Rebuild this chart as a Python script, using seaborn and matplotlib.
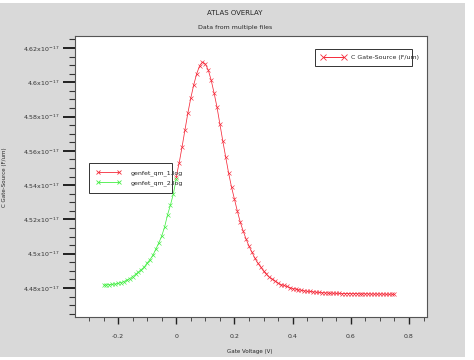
import matplotlib as mpl
import matplotlib.pyplot as plt
import seaborn as sns
from matplotlib.lines import Line2D
from matplotlib.patches import Rectangle
from matplotlib.ticker import MultipleLocator, FuncFormatter

# gate voltage (V) and C gate-source (units of 1e-17 F/um)
v_qm1 = [0.00, 0.01, 0.02, 0.03, 0.04, 0.05, 0.06, 0.07, 0.08, 0.09,
         0.10, 0.11, 0.12, 0.13, 0.14, 0.15, 0.16, 0.17, 0.18, 0.19,
         0.20, 0.21, 0.22, 0.23, 0.24, 0.25, 0.26, 0.27, 0.28, 0.29,
         0.30, 0.31, 0.32, 0.33, 0.34, 0.35, 0.36, 0.37, 0.38, 0.39,
         0.40, 0.41, 0.42, 0.43, 0.44, 0.45, 0.46, 0.47, 0.48, 0.49,
         0.50, 0.51, 0.52, 0.53, 0.54, 0.55, 0.56, 0.57, 0.58, 0.59,
         0.60, 0.61, 0.62, 0.63, 0.64, 0.65, 0.66, 0.67, 0.68, 0.69,
         0.70, 0.71, 0.72, 0.73, 0.74, 0.75]
c_qm1 = [4.5448, 4.5529, 4.5623, 4.5722, 4.5821, 4.5908, 4.5984, 4.6048, 4.6095, 4.6118,
         4.6107, 4.6072, 4.6013, 4.5938, 4.5856, 4.5757, 4.5658, 4.5564, 4.5471, 4.5389,
         4.5319, 4.5249, 4.5185, 4.5133, 4.5086, 4.5045, 4.5010, 4.4975, 4.4946, 4.4923,
         4.4899, 4.4882, 4.4864, 4.4853, 4.4841, 4.4829, 4.4820, 4.4815, 4.4809, 4.4803,
         4.4797, 4.4794, 4.4790, 4.4787, 4.4784, 4.4781, 4.4780, 4.4778, 4.4776, 4.4774,
         4.4773, 4.4772, 4.4771, 4.4770, 4.4770, 4.4769, 4.4769, 4.4768, 4.4768, 4.4768,
         4.4767, 4.4767, 4.4767, 4.4766, 4.4766, 4.4766, 4.4766, 4.4765, 4.4765, 4.4765,
         4.4765, 4.4765, 4.4764, 4.4764, 4.4764, 4.4764]

v_qm2 = [-0.25, -0.24, -0.23, -0.22, -0.21, -0.20, -0.19, -0.18, -0.17, -0.16,
         -0.15, -0.14, -0.13, -0.12, -0.11, -0.10, -0.09, -0.08, -0.07, -0.06,
         -0.05, -0.04, -0.03, -0.02, -0.01, 0.00]
c_qm2 = [4.4818, 4.4818, 4.4820, 4.4822, 4.4823, 4.4827, 4.4832, 4.4838, 4.4846, 4.4855,
         4.4867, 4.4879, 4.4893, 4.4908, 4.4922, 4.4946, 4.4966, 4.4992, 4.5027, 4.5063,
         4.5103, 4.5156, 4.5226, 4.5284, 4.5348, 4.5436]

RED = "#f52a3a"
GREEN = "#44ee44"

sns.set_style("white")
mpl.rcParams["font.family"] = ["Liberation Sans Narrow", "DejaVu Sans"]
mpl.rcParams["mathtext.fontset"] = "custom"
mpl.rcParams["mathtext.rm"] = "Liberation Sans Narrow"

fig = plt.figure(figsize=(4.74, 3.6), dpi=100, facecolor="white")
fig.patches.append(Rectangle((0, 3 / 360), 465 / 474, 354 / 360, transform=fig.transFigure,
                             facecolor="#d9d9d9", edgecolor="none", zorder=-10))
ax = fig.add_axes([75 / 474, 43 / 360, 352 / 474, 281 / 360])
ax.set_zorder(5)
ax.set_facecolor("white")

line_kw = dict(marker="x", markersize=3.2, markeredgewidth=0.45, linewidth=0.55, ax=ax, sort=False)
sns.lineplot(x=v_qm1, y=c_qm1, color=RED, markeredgecolor=RED, **line_kw)
sns.lineplot(x=v_qm2, y=c_qm2, color=GREEN, markeredgecolor=GREEN, **line_kw)

ax.set_xlim(-0.348, 0.862)
ax.set_ylim(4.4631, 4.627)
ax.xaxis.set_major_locator(MultipleLocator(0.2))
ax.xaxis.set_minor_locator(MultipleLocator(0.05))
ax.yaxis.set_major_locator(MultipleLocator(0.02))
ax.yaxis.set_minor_locator(MultipleLocator(0.005))
ax.xaxis.set_major_formatter(FuncFormatter(lambda v, p: f"{v:g}"))
ax.yaxis.set_major_formatter(FuncFormatter(lambda v, p: f"{v:g}x10$^{{-17}}$"))

ax.tick_params(axis="y", which="major", direction="out", length=9, width=1.4,
               color="#222222", labelsize=4.5, labelcolor="#333333", pad=2, left=True)
ax.tick_params(axis="y", which="minor", direction="out", length=4.5, width=0.8,
               color="#333333", left=True)
ax.tick_params(axis="x", which="major", direction="out", length=5, width=1.0,
               color="#222222", labelsize=4.5, labelcolor="#333333", pad=7, bottom=True)
ax.tick_params(axis="x", which="minor", direction="out", length=3, width=0.6,
               color="#333333", bottom=True)
for s in ax.spines.values():
    s.set_color("#555555")
    s.set_linewidth(0.8)

fig.text(235 / 474, 1 - 13 / 360, "ATLAS OVERLAY", ha="center", va="center", fontsize=5)
fig.text(235 / 474, 1 - 28 / 360, "Data from multiple files", ha="center", va="center", fontsize=4.5)
fig.text(250 / 474, 1 - 351 / 360, "Gate Voltage (V)", ha="center", va="center", fontsize=4)
fig.text(5 / 474, 1 - 177 / 360, "C Gate-Source (F/um)", ha="center", va="center",
         rotation=90, fontsize=4)

h_main = [Line2D([], [], color=RED, marker="x", markersize=5, markeredgewidth=0.6, linewidth=0.7)]
leg1 = ax.legend(h_main, ["C Gate-Source (F/um)"], loc="upper left",
                 bbox_to_anchor=(0.673, 0.900, 0.293, 0.064), mode="expand",
                 fontsize=4.5, fancybox=False, edgecolor="#333333", framealpha=1,
                 handlelength=4, borderpad=0.9, numpoints=2)
leg1.get_frame().set_linewidth(0.7)
ax.add_artist(leg1)

h_files = [Line2D([], [], color=RED, marker="x", markersize=3, markeredgewidth=0.6, linewidth=0.6),
           Line2D([], [], color=GREEN, marker="x", markersize=3, markeredgewidth=0.6, linewidth=0.6)]
leg2 = ax.legend(h_files, ["genfet_qm_1.log", "genfet_qm_2.log"], loc="upper left",
                 bbox_to_anchor=(0.031, 0.441, 0.253, 0.118), mode="expand",
                 fontsize=4.5, fancybox=False, edgecolor="#333333", framealpha=1,
                 handlelength=4, handletextpad=1.6, borderpad=1.1, labelspacing=0.6,
                 numpoints=2)
leg2.get_frame().set_linewidth(0.7)

fig.savefig("out.png", dpi=100, facecolor=fig.get_facecolor())
